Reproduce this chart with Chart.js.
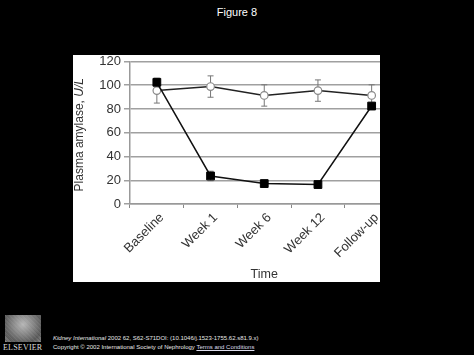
<!DOCTYPE html>
<html>
<head>
<meta charset="utf-8">
<script src="https://cdn.jsdelivr.net/npm/chart.js@4/dist/chart.umd.min.js"></script>
<style>
  html, body { margin: 0; padding: 0; background: #000; width: 474px; height: 355px; overflow: hidden; font-family: "Liberation Sans", Arial, sans-serif; }
  #title { position: absolute; left: 0; width: 474px; top: 6px; text-align: center; color: #fff; font-size: 11px; }
  #panel { position: absolute; left: 73px; top: 55px; width: 307px; height: 227px; background: #fff; overflow: hidden; }
  #panel canvas { position: absolute; left: 0; top: 0; }
  #logo { position: absolute; left: 5px; top: 315px; width: 36px; height: 27px;
          background:
            radial-gradient(ellipse at 50% 35%, rgba(190,190,190,0.9) 0%, rgba(140,140,140,0.8) 40%, rgba(70,70,70,0.6) 75%, rgba(0,0,0,0) 100%),
            repeating-linear-gradient(45deg, #777 0px, #999 1px, #666 2px, #888 3px); }
  #logotext { position: absolute; left: 3px; top: 343px; color: #ddd; font-family: "Liberation Serif", serif; font-size: 8px; letter-spacing: 0.2px; }
  .foot { position: absolute; left: 53px; color: #e8e8e8; font-size: 6px; white-space: nowrap; }
  .foot a { color: #dde; text-decoration: underline; }
</style>
</head>
<body>
<div id="title">Figure 8</div>
<div id="panel"><canvas id="c" width="332" height="227"></canvas></div>
<div id="logo"></div>
<div id="logotext">ELSEVIER</div>
<div class="foot" style="top:335px;"><i>Kidney International</i> 2002 62, S62-S71DOI: (10.1046/j.1523-1755.62.s81.9.x)</div>
<div class="foot" style="top:344px;">Copyright © 2002 International Society of Nephrology <a>Terms and Conditions</a></div>
<script>
const categories = ["Baseline", "Week 1", "Week 6", "Week 12", "Follow-up"];
const treatedValues = [102.5, 23.6, 17.2, 16.4, 82.5];
const treatedErrors = [3, 4, 3, 3, 3];
const controlValues = [95.5, 98.9, 91.4, 95.5, 91.4];
const controlErrors = [10.5, 9, 9, 9, 9];
const yTicks = [0, 20, 40, 60, 80, 100, 120];

const errorBarPlugin = {
  id: 'errorBars',
  beforeDatasetsDraw(chart) {
    const ctx = chart.ctx;
    const xs = chart.scales.x, ys = chart.scales.y;
    const sets = [[controlValues, controlErrors], [treatedValues, treatedErrors]];
    ctx.save();
    ctx.strokeStyle = '#777';
    ctx.lineWidth = 1;
    sets.forEach(([vals, errs]) => {
      vals.forEach((v, i) => {
        const x = xs.getPixelForValue(i);
        const yt = ys.getPixelForValue(v + errs[i]);
        const yb = ys.getPixelForValue(v - errs[i]);
        ctx.beginPath();
        ctx.moveTo(x, yt); ctx.lineTo(x, yb);
        ctx.moveTo(x - 3, yt); ctx.lineTo(x + 3, yt);
        ctx.moveTo(x - 3, yb); ctx.lineTo(x + 3, yb);
        ctx.stroke();
      });
    });
    ctx.restore();
  }
};

const tickFont = { family: "'Liberation Sans', Arial, sans-serif", size: 13 };

new Chart(document.getElementById('c'), {
  type: 'line',
  data: {
    labels: categories,
    datasets: [
      {
        label: 'Treated',
        data: treatedValues,
        borderColor: '#111',
        borderWidth: 1.5,
        pointStyle: 'rect',
        pointRadius: 5.5,
        pointBackgroundColor: '#000',
        pointBorderColor: '#000',
        pointBorderWidth: 1,
        tension: 0
      },
      {
        label: 'Control',
        data: controlValues,
        borderColor: '#222',
        borderWidth: 1.5,
        pointStyle: 'circle',
        pointRadius: 3.8,
        pointBackgroundColor: '#fff',
        pointBorderColor: '#888',
        pointBorderWidth: 1.2,
        tension: 0
      }
    ]
  },
  options: {
    responsive: false,
    animation: false,
    devicePixelRatio: 1,
    layout: { padding: { top: 5, right: 5, left: 0, bottom: 0 } },
    plugins: { legend: { display: false }, tooltip: { enabled: false } },
    scales: {
      x: {
        offset: true,
        grid: { offset: true, drawOnChartArea: false, drawTicks: true, tickLength: 4, color: '#888', lineWidth: 1 },
        border: { color: '#999', width: 1.5 },
        ticks: { font: tickFont, color: '#333', minRotation: 45, maxRotation: 45, padding: 2, labelOffset: 5 },
        title: { display: true, text: 'Time', font: { family: "'Liberation Sans', Arial, sans-serif", size: 12.5 }, color: '#333', padding: { top: 0, bottom: 0 } },
        afterFit(s) { s.height = 78; s.paddingLeft = 0; s.paddingRight = 0; }
      },
      y: {
        min: 0, max: 120,
        afterBuildTicks(s) { s.ticks = yTicks.map(v => ({ value: v })); },
        grid: { color: '#a0a0a0', lineWidth: 1.5, tickLength: 6 },
        border: { color: '#999', width: 1.5 },
        ticks: { font: tickFont, color: '#333', padding: 3 },
        title: { display: false },
        afterFit(s) { s.width = 57; s.paddingTop = 0; s.paddingBottom = 0; }
      }
    }
  },
  plugins: [errorBarPlugin, {
    id: 'ytitle',
    afterDraw(chart) {
      const ctx = chart.ctx;
      const ys = chart.scales.y;
      const cy = (ys.top + ys.bottom) / 2 + 2;
      ctx.save();
      ctx.translate(7, cy);
      ctx.rotate(-Math.PI / 2);
      ctx.fillStyle = '#333';
      ctx.textBaseline = 'middle';
      const f = "12px 'Liberation Sans', Arial, sans-serif";
      const fi = "italic 12px 'Liberation Sans', Arial, sans-serif";
      const a = 'Plasma amylase, ', b = 'U/L';
      ctx.font = f; const wa = ctx.measureText(a).width;
      ctx.font = fi; const wb = ctx.measureText(b).width;
      const start = -(wa + wb) / 2;
      ctx.font = f; ctx.textAlign = 'left'; ctx.fillText(a, start, 0);
      ctx.font = fi; ctx.fillText(b, start + wa, 0);
      ctx.restore();
    }
  }]
});
</script>
</body>
</html>
